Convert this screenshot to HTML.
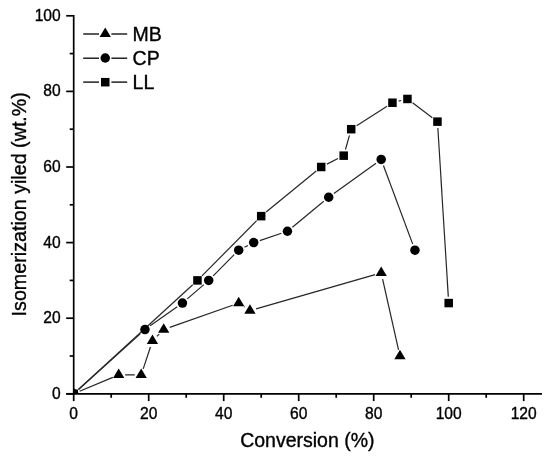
<!DOCTYPE html>
<html><head><meta charset="utf-8"><style>
html,body{margin:0;padding:0;background:#fff;width:550px;height:457px;overflow:hidden}
svg{display:block}
</style></head><body>
<svg width="550" height="457" viewBox="0 0 550 457">
<defs><clipPath id="pa"><rect x="73.7" y="0" width="480" height="393.8"/></clipPath></defs>
<rect width="550" height="457" fill="#fff"/>
<g clip-path="url(#pa)">
<g stroke="#262626" stroke-width="1.2" fill="none">
<line x1="79.60" y1="391.32" x2="112.80" y2="377.38"/>
<line x1="125.10" y1="374.90" x2="134.80" y2="374.90"/>
<line x1="143.21" y1="368.82" x2="150.44" y2="346.96"/>
<line x1="156.96" y1="336.34" x2="159.19" y2="334.08"/>
<line x1="169.74" y1="327.41" x2="232.66" y2="305.21"/>
<line x1="244.01" y1="306.65" x2="244.64" y2="307.07"/>
<line x1="256.10" y1="308.87" x2="375.05" y2="274.61"/>
<line x1="382.61" y1="279.08" x2="398.54" y2="349.76"/>
<line x1="78.45" y1="389.51" x2="140.20" y2="333.83"/>
<line x1="150.18" y1="325.85" x2="177.22" y2="306.77"/>
<line x1="187.29" y1="298.90" x2="203.86" y2="284.58"/>
<line x1="213.21" y1="275.86" x2="234.19" y2="254.70"/>
<line x1="244.42" y1="247.28" x2="247.98" y2="245.48"/>
<line x1="259.77" y1="240.56" x2="281.38" y2="233.30"/>
<line x1="292.39" y1="227.19" x2="323.76" y2="201.31"/>
<line x1="333.89" y1="193.50" x2="376.01" y2="163.18"/>
<line x1="383.43" y1="165.44" x2="412.72" y2="244.16"/>
<line x1="78.42" y1="389.48" x2="192.73" y2="284.72"/>
<line x1="201.96" y1="275.86" x2="256.69" y2="220.68"/>
<line x1="266.15" y1="212.08" x2="316.25" y2="171.06"/>
<line x1="326.92" y1="164.12" x2="337.98" y2="158.54"/>
<line x1="345.45" y1="149.50" x2="349.45" y2="135.36"/>
<line x1="356.59" y1="125.74" x2="387.06" y2="106.20"/>
<line x1="398.66" y1="101.18" x2="401.24" y2="100.52"/>
<line x1="412.56" y1="102.82" x2="432.34" y2="117.78"/>
<line x1="437.85" y1="128.03" x2="448.30" y2="296.69"/>
</g>
<g fill="#000">
<polygon points="73.70,387.50 79.35,397.00 68.05,397.00"/>
<polygon points="118.70,368.60 124.35,378.10 113.05,378.10"/>
<polygon points="141.20,368.60 146.85,378.10 135.55,378.10"/>
<polygon points="152.45,334.58 158.10,344.08 146.80,344.08"/>
<polygon points="163.70,323.24 169.35,332.74 158.05,332.74"/>
<polygon points="238.70,296.78 244.35,306.28 233.05,306.28"/>
<polygon points="249.95,304.34 255.60,313.84 244.30,313.84"/>
<polygon points="381.20,266.54 386.85,276.04 375.55,276.04"/>
<polygon points="399.95,349.70 405.60,359.20 394.30,359.20"/>
<circle cx="73.70" cy="393.80" r="4.75"/>
<circle cx="144.95" cy="329.54" r="4.75"/>
<circle cx="182.45" cy="303.08" r="4.75"/>
<circle cx="208.70" cy="280.40" r="4.75"/>
<circle cx="238.70" cy="250.16" r="4.75"/>
<circle cx="253.70" cy="242.60" r="4.75"/>
<circle cx="287.45" cy="231.26" r="4.75"/>
<circle cx="328.70" cy="197.24" r="4.75"/>
<circle cx="381.20" cy="159.44" r="4.75"/>
<circle cx="414.95" cy="250.16" r="4.75"/>
<rect x="69.45" y="389.55" width="8.5" height="8.5"/>
<rect x="193.20" y="276.15" width="8.5" height="8.5"/>
<rect x="256.95" y="211.89" width="8.5" height="8.5"/>
<rect x="316.95" y="162.75" width="8.5" height="8.5"/>
<rect x="339.45" y="151.41" width="8.5" height="8.5"/>
<rect x="346.95" y="124.95" width="8.5" height="8.5"/>
<rect x="388.20" y="98.49" width="8.5" height="8.5"/>
<rect x="403.20" y="94.71" width="8.5" height="8.5"/>
<rect x="433.20" y="117.39" width="8.5" height="8.5"/>
<rect x="444.45" y="298.83" width="8.5" height="8.5"/>
</g>
</g>
<g stroke="#000" stroke-width="1.7" fill="none">
<line x1="73.7" y1="14.95" x2="73.7" y2="394.65"/>
<line x1="66.2" y1="393.8" x2="542" y2="393.8"/>
<line x1="66.20" y1="393.80" x2="73.7" y2="393.80"/>
<line x1="69.70" y1="356.00" x2="73.7" y2="356.00"/>
<line x1="66.20" y1="318.20" x2="73.7" y2="318.20"/>
<line x1="69.70" y1="280.40" x2="73.7" y2="280.40"/>
<line x1="66.20" y1="242.60" x2="73.7" y2="242.60"/>
<line x1="69.70" y1="204.80" x2="73.7" y2="204.80"/>
<line x1="66.20" y1="167.00" x2="73.7" y2="167.00"/>
<line x1="69.70" y1="129.20" x2="73.7" y2="129.20"/>
<line x1="66.20" y1="91.40" x2="73.7" y2="91.40"/>
<line x1="69.70" y1="53.60" x2="73.7" y2="53.60"/>
<line x1="66.20" y1="15.80" x2="73.7" y2="15.80"/>
<line x1="73.70" y1="393.8" x2="73.70" y2="401.10"/>
<line x1="111.20" y1="393.8" x2="111.20" y2="397.80"/>
<line x1="148.70" y1="393.8" x2="148.70" y2="401.10"/>
<line x1="186.20" y1="393.8" x2="186.20" y2="397.80"/>
<line x1="223.70" y1="393.8" x2="223.70" y2="401.10"/>
<line x1="261.20" y1="393.8" x2="261.20" y2="397.80"/>
<line x1="298.70" y1="393.8" x2="298.70" y2="401.10"/>
<line x1="336.20" y1="393.8" x2="336.20" y2="397.80"/>
<line x1="373.70" y1="393.8" x2="373.70" y2="401.10"/>
<line x1="411.20" y1="393.8" x2="411.20" y2="397.80"/>
<line x1="448.70" y1="393.8" x2="448.70" y2="401.10"/>
<line x1="486.20" y1="393.8" x2="486.20" y2="397.80"/>
<line x1="523.70" y1="393.8" x2="523.70" y2="401.10"/>
</g>
<g font-family="Liberation Sans, Arial, sans-serif" font-size="15.6" fill="#000" stroke="#000" stroke-width="0.35">
<text x="60.7" y="398.85" text-anchor="end">0</text>
<text x="60.7" y="323.25" text-anchor="end">20</text>
<text x="60.7" y="247.65" text-anchor="end">40</text>
<text x="60.7" y="172.05" text-anchor="end">60</text>
<text x="60.7" y="96.45" text-anchor="end">80</text>
<text x="60.7" y="20.85" text-anchor="end">100</text>
<text x="73.70" y="418.9" text-anchor="middle">0</text>
<text x="148.70" y="418.9" text-anchor="middle">20</text>
<text x="223.70" y="418.9" text-anchor="middle">40</text>
<text x="298.70" y="418.9" text-anchor="middle">60</text>
<text x="373.70" y="418.9" text-anchor="middle">80</text>
<text x="448.70" y="418.9" text-anchor="middle">100</text>
<text x="523.70" y="418.9" text-anchor="middle">120</text>
</g>
<line x1="83.2" y1="34.0" x2="99.0" y2="34.0" stroke="#000" stroke-width="1.3"/>
<line x1="111.4" y1="34.0" x2="127.2" y2="34.0" stroke="#000" stroke-width="1.3"/>
<polygon points="105.25,27.50 110.90,37.00 99.60,37.00"/>
<line x1="83.2" y1="58.2" x2="99.0" y2="58.2" stroke="#000" stroke-width="1.3"/>
<line x1="111.4" y1="58.2" x2="127.2" y2="58.2" stroke="#000" stroke-width="1.3"/>
<circle cx="105.25" cy="58.00" r="4.75"/>
<line x1="83.2" y1="82.1" x2="99.0" y2="82.1" stroke="#000" stroke-width="1.3"/>
<line x1="111.4" y1="82.1" x2="127.2" y2="82.1" stroke="#000" stroke-width="1.3"/>
<rect x="101.00" y="77.95" width="8.5" height="8.5"/>
<g font-family="Liberation Sans, Arial, sans-serif" font-size="19.5" fill="#000" stroke="#000" stroke-width="0.35">
<text x="132.6" y="40.9">MB</text>
<text x="132.6" y="64.8">CP</text>
<text x="132.6" y="88.9">LL</text>
<text x="307.35" y="446.5" text-anchor="middle">Conversion (%)</text>
<text transform="translate(26.2,204.25) rotate(-90)" text-anchor="middle" font-size="19.7">Isomerization yiled (wt.%)</text>
</g>
</svg>
</body></html>
